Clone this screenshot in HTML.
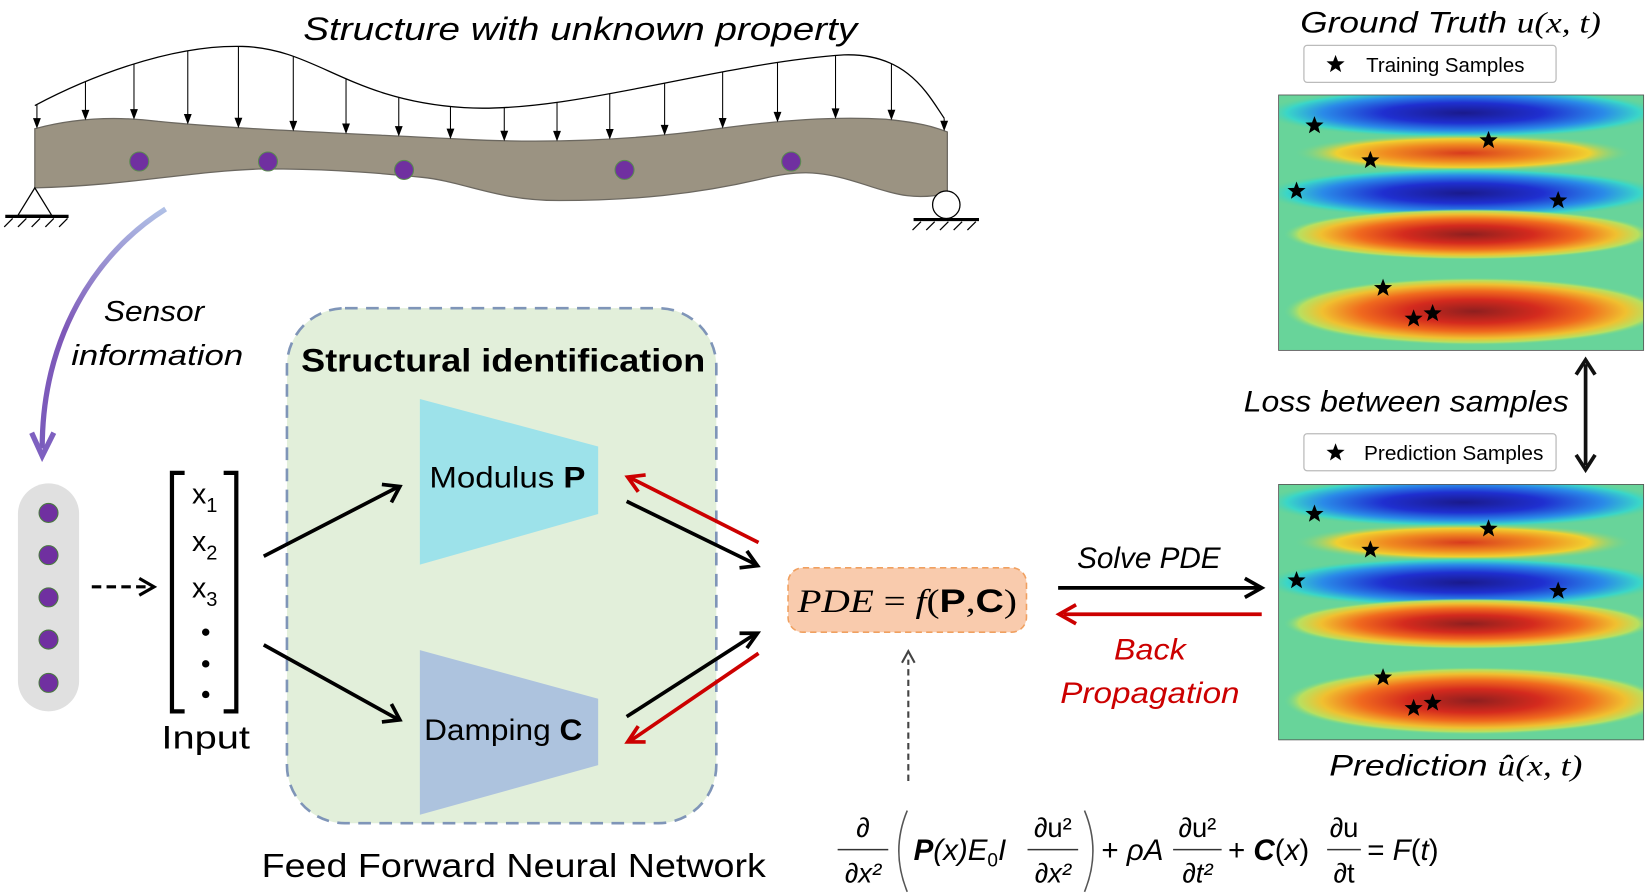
<!DOCTYPE html>
<html><head><meta charset="utf-8"><style>
html,body{margin:0;padding:0;background:#fff}
svg{display:block}
text{font-family:"Liberation Sans",sans-serif}
.it{font-style:italic}
.serif{font-family:"Liberation Serif",serif}
</style></head><body>
<svg id="s" width="1651" height="895" viewBox="0 0 1565 848" preserveAspectRatio="none" xmlns="http://www.w3.org/2000/svg">
<defs>
<radialGradient id="gb" cx="0.5" cy="0.5" r="0.5">
<stop offset="0" stop-color="#1a1a8c"/><stop offset="0.4" stop-color="#1f2fd0"/><stop offset="0.7" stop-color="#2a8ae8"/><stop offset="0.88" stop-color="#3ad6c8"/><stop offset="1" stop-color="#5fd39a" stop-opacity="0"/>
</radialGradient>
<radialGradient id="gr" cx="0.5" cy="0.5" r="0.5">
<stop offset="0" stop-color="#8e1f1f"/><stop offset="0.35" stop-color="#d42a1e"/><stop offset="0.6" stop-color="#f06a1e"/><stop offset="0.8" stop-color="#f0c030"/><stop offset="0.92" stop-color="#b8e060"/><stop offset="1" stop-color="#6fd890" stop-opacity="0"/>
</radialGradient>
<radialGradient id="go" cx="0.5" cy="0.5" r="0.5">
<stop offset="0" stop-color="#d83a1e"/><stop offset="0.45" stop-color="#f08a20"/><stop offset="0.75" stop-color="#f0d030"/><stop offset="1" stop-color="#6fd890" stop-opacity="0"/>
</radialGradient>
<linearGradient id="ps" x1="0" y1="0" x2="0" y2="1">
<stop offset="0" stop-color="#b0c0e6"/><stop offset="0.5" stop-color="#7e58b8"/><stop offset="1" stop-color="#7a5cbc"/>
</linearGradient>
<polygon id="star" points="0,-9 2.3,-3 8.6,-2.8 3.6,1.2 5.3,7.3 0,3.8 -5.3,7.3 -3.6,1.2 -8.6,-2.8 -2.3,-3" fill="#000"/>
<clipPath id="hc"><rect x="0" y="0" width="346" height="242"/></clipPath>
<g id="heat">
<rect x="0" y="0" width="346" height="242" fill="#68d49a"/>
<g clip-path="url(#hc)">
<ellipse cx="175" cy="17" rx="190" ry="24" fill="url(#gb)"/>
<ellipse cx="175" cy="55" rx="160" ry="18" fill="url(#go)"/>
<ellipse cx="175" cy="93" rx="190" ry="24" fill="url(#gb)"/>
<ellipse cx="180" cy="132" rx="175" ry="24" fill="url(#gr)"/>
<ellipse cx="185" cy="205" rx="180" ry="32" fill="url(#gr)"/>
</g>
<rect x="0" y="0" width="346" height="242" fill="none" stroke="#555" stroke-width="0.8"/>
</g>
</defs>

<text x="550" y="38" font-size="31" class="it" text-anchor="middle" textLength="525" lengthAdjust="spacingAndGlyphs">Structure with unknown property</text>

<path id="btop" d="M33,122 C70,112 110,110 150,115 C220,122 300,125 440,132 C520,136 600,133 680,122 C740,114 790,110 840,113 C870,116 885,120 898,125" fill="none" stroke="none"/>
<path d="M33,122 C70,112 110,110 150,115 C220,122 300,125 440,132 C520,136 600,133 680,122 C740,114 790,110 840,113 C870,116 885,120 898,125 L898,183 C870,190 850,185 820,175 C780,162 760,160 720,170 C660,184 600,190 530,190 C470,190 440,172 400,168 C340,162 300,160 250,160 C180,162 120,176 33,178 Z" fill="#9b9382" stroke="#6c6860" stroke-width="1.2"/>
<path id="load" d="M33,100 C80,75 160,42 230,44 C300,46 330,95 440,102 C540,108 680,60 800,52 C860,50 880,90 895,112" fill="none" stroke="#000" stroke-width="1.2"/>
<g id="arrows" stroke="#000" stroke-width="1"></g>
<g fill="#7030a0" stroke="#5a8a50" stroke-width="1">
<ellipse cx="132" cy="153" rx="9" ry="9"/><ellipse cx="254" cy="153" rx="9" ry="9"/><ellipse cx="383" cy="161" rx="9" ry="9"/><ellipse cx="592" cy="161" rx="9" ry="9"/><ellipse cx="750" cy="153" rx="9" ry="9"/>
</g>
<path d="M33,178 L17,204 L49,204 Z" fill="none" stroke="#000" stroke-width="1.2"/>
<line x1="5" y1="205" x2="65" y2="205" stroke="#000" stroke-width="3"/>
<g stroke="#000" stroke-width="1.2"><line x1="12" y1="207" x2="4" y2="215"/><line x1="25" y1="207" x2="17" y2="215"/><line x1="38" y1="207" x2="30" y2="215"/><line x1="51" y1="207" x2="43" y2="215"/><line x1="64" y1="207" x2="56" y2="215"/></g>
<ellipse cx="897" cy="194" rx="13" ry="13" fill="#fff" stroke="#000" stroke-width="1.2"/>
<line x1="866" y1="208" x2="928" y2="208" stroke="#000" stroke-width="3"/>
<g stroke="#000" stroke-width="1.2"><line x1="873" y1="210" x2="865" y2="218"/><line x1="886" y1="210" x2="878" y2="218"/><line x1="899" y1="210" x2="891" y2="218"/><line x1="912" y1="210" x2="904" y2="218"/><line x1="925" y1="210" x2="917" y2="218"/></g>

<path d="M157,198 C90,240 40,320 40,425" fill="none" stroke="url(#ps)" stroke-width="5"/>
<path d="M30,410 L40,432 L51,410" fill="none" stroke="#7e60c0" stroke-width="5"/>
<text x="146" y="304" font-size="27" class="it" text-anchor="middle" textLength="95" lengthAdjust="spacingAndGlyphs">Sensor</text>
<text x="149" y="346" font-size="27" class="it" text-anchor="middle" textLength="163" lengthAdjust="spacingAndGlyphs">information</text>

<rect x="17" y="458" width="58" height="216" rx="29" fill="#e0e0e0"/>
<g fill="#7030a0" stroke="#4a7a40" stroke-width="1"><circle cx="46" cy="486" r="9"/><circle cx="46" cy="526" r="9"/><circle cx="46" cy="566" r="9"/><circle cx="46" cy="606" r="9"/><circle cx="46" cy="647" r="9"/></g>
<line x1="87" y1="556" x2="140" y2="556" stroke="#000" stroke-width="3" stroke-dasharray="9,5"/>
<path d="M132,548 L146,556 L132,564" fill="none" stroke="#000" stroke-width="3"/>

<path d="M175,448 L163,448 L163,674 L175,674 M212,448 L224,448 L224,674 L212,674" fill="none" stroke="#000" stroke-width="4"/>
<text x="182" y="477" font-size="27">x<tspan font-size="19" dy="8">1</tspan></text>
<text x="182" y="522" font-size="27">x<tspan font-size="19" dy="8">2</tspan></text>
<text x="182" y="566" font-size="27">x<tspan font-size="19" dy="8">3</tspan></text>
<circle cx="195" cy="599" r="3.5"/><circle cx="195" cy="629" r="3.5"/><circle cx="195" cy="658" r="3.5"/>
<text x="195" y="709" font-size="31" text-anchor="middle" textLength="84" lengthAdjust="spacingAndGlyphs">Input</text>

<rect x="272" y="292" width="407" height="488" rx="55" fill="#e2efda" stroke="#7f95b8" stroke-width="2.5" stroke-dasharray="12,8"/>
<text x="477" y="352" font-size="31" font-weight="bold" text-anchor="middle" textLength="383" lengthAdjust="spacingAndGlyphs">Structural identification</text>
<polygon points="398,378 567,423 567,487 398,535" fill="#9de2ea"/>
<polygon points="398,616 567,662 567,725 398,772" fill="#adc3de"/>
<text x="407" y="462" font-size="28" textLength="148" lengthAdjust="spacingAndGlyphs">Modulus <tspan font-weight="bold">P</tspan></text>
<text x="402" y="701" font-size="28" textLength="150" lengthAdjust="spacingAndGlyphs">Damping <tspan font-weight="bold">C</tspan></text>
<text x="487" y="831" font-size="32" text-anchor="middle" textLength="478" lengthAdjust="spacingAndGlyphs">Feed Forward Neural Network</text>

<g stroke="#000" stroke-width="3.5" fill="none">
<line x1="250" y1="527" x2="378" y2="461"/><path d="M362,459 L379,461 L371,476"/>
<line x1="250" y1="611" x2="378" y2="682"/><path d="M371,667 L379,682 L362,684"/>
<line x1="594" y1="475" x2="717" y2="535"/><path d="M701,538 L718,536 L708,522"/>
<line x1="594" y1="679" x2="717" y2="600"/><path d="M708,614 L718,600 L701,600"/>
</g>
<g stroke="#cc0000" stroke-width="3.5" fill="none">
<line x1="719" y1="514" x2="596" y2="452"/><path d="M612,450 L595,452 L605,466"/>
<line x1="719" y1="619" x2="596" y2="703"/><path d="M605,688 L595,703 L612,703"/>
</g>

<rect x="747" y="538" width="226" height="61" rx="14" fill="#f9cbad" stroke="#f0a060" stroke-width="1.5" stroke-dasharray="6,4"/>
<text x="860" y="580" font-size="31" text-anchor="middle" class="serif" textLength="208" lengthAdjust="spacingAndGlyphs"><tspan font-style="italic">PDE</tspan> = <tspan font-style="italic">f</tspan>(<tspan font-family="Liberation Sans" font-weight="bold">P</tspan>,<tspan font-family="Liberation Sans" font-weight="bold">C</tspan>)</text>
<line x1="861" y1="740" x2="861" y2="625" stroke="#444" stroke-width="2" stroke-dasharray="6,4"/>
<path d="M855,628 L861,617 L867,628" fill="none" stroke="#444" stroke-width="2"/>

<g class="serif" font-family="Liberation Serif">
<text x="818" y="793" font-size="26" font-style="italic" text-anchor="middle">∂</text>
<line x1="794" y1="805" x2="842" y2="805" stroke="#333" stroke-width="1.5"/>
<text x="818" y="836" font-size="26" font-style="italic" text-anchor="middle">∂x²</text>
<path d="M860,768 Q844,806 860,845" fill="none" stroke="#555" stroke-width="1.5"/>
<text x="866" y="815" font-size="28" font-style="italic"><tspan font-weight="bold">P</tspan>(x)E<tspan font-size="18" dy="6" font-style="normal">0</tspan><tspan dy="-6">I</tspan></text>
<text x="998" y="793" font-size="26" text-anchor="middle">∂u²</text>
<line x1="974" y1="805" x2="1022" y2="805" stroke="#333" stroke-width="1.5"/>
<text x="998" y="836" font-size="26" font-style="italic" text-anchor="middle">∂x²</text>
<path d="M1028,768 Q1044,806 1028,845" fill="none" stroke="#555" stroke-width="1.5"/>
<text x="1044" y="815" font-size="28"><tspan>+ </tspan><tspan font-style="italic">ρA</tspan></text>
<text x="1135" y="793" font-size="26" text-anchor="middle">∂u²</text>
<line x1="1112" y1="805" x2="1158" y2="805" stroke="#333" stroke-width="1.5"/>
<text x="1135" y="836" font-size="26" font-style="italic" text-anchor="middle">∂t²</text>
<text x="1164" y="815" font-size="28">+ <tspan font-weight="bold" font-style="italic">C</tspan>(<tspan font-style="italic">x</tspan>)</text>
<text x="1274" y="793" font-size="26" text-anchor="middle">∂u</text>
<line x1="1258" y1="805" x2="1290" y2="805" stroke="#333" stroke-width="1.5"/>
<text x="1274" y="836" font-size="26" text-anchor="middle">∂t</text>
<text x="1296" y="815" font-size="28">= <tspan font-style="italic">F</tspan>(<tspan font-style="italic">t</tspan>)</text>
</g>

<text x="1089" y="538" font-size="28" class="it" text-anchor="middle" textLength="136" lengthAdjust="spacingAndGlyphs">Solve PDE</text>
<line x1="1003" y1="557" x2="1193" y2="557" stroke="#000" stroke-width="3.5"/>
<path d="M1180,548 L1196,557 L1180,566" fill="none" stroke="#000" stroke-width="3.5"/>
<line x1="1008" y1="582" x2="1196" y2="582" stroke="#cc0000" stroke-width="3.5"/>
<path d="M1020,573 L1004,582 L1020,591" fill="none" stroke="#cc0000" stroke-width="3.5"/>
<text x="1090" y="625" font-size="28" class="it" fill="#cc0000" text-anchor="middle" textLength="68" lengthAdjust="spacingAndGlyphs">Back</text>
<text x="1090" y="666" font-size="28" class="it" fill="#cc0000" text-anchor="middle" textLength="170" lengthAdjust="spacingAndGlyphs">Propagation</text>

<text x="1375" y="31" font-size="28" class="it" text-anchor="middle" textLength="285" lengthAdjust="spacingAndGlyphs">Ground Truth <tspan font-family="Liberation Serif">u(x, t)</tspan></text>
<rect x="1236" y="43" width="239" height="35" rx="3" fill="#fff" stroke="#bbb" stroke-width="1.2"/>
<use href="#star" x="1266" y="61"/>
<text x="1295" y="68" font-size="19" textLength="150" lengthAdjust="spacingAndGlyphs">Training Samples</text>
<use href="#heat" x="1212" y="90"/>
<g><use href="#star" x="1246" y="119"/><use href="#star" x="1299" y="152"/><use href="#star" x="1411" y="133"/><use href="#star" x="1229" y="181"/><use href="#star" x="1477" y="190"/><use href="#star" x="1311" y="273"/><use href="#star" x="1340" y="302"/><use href="#star" x="1358" y="297"/></g>

<text x="1333" y="390" font-size="28" class="it" text-anchor="middle" textLength="308" lengthAdjust="spacingAndGlyphs">Loss between samples</text>
<line x1="1503" y1="345" x2="1503" y2="441" stroke="#111" stroke-width="3.5"/>
<path d="M1494,355 L1503,341 L1512,355 M1494,431 L1503,445 L1512,431" fill="none" stroke="#111" stroke-width="3.5"/>
<rect x="1236" y="411" width="239" height="35" rx="3" fill="#fff" stroke="#bbb" stroke-width="1.2"/>
<use href="#star" x="1266" y="429"/>
<text x="1293" y="436" font-size="19" textLength="170" lengthAdjust="spacingAndGlyphs">Prediction Samples</text>
<use href="#heat" x="1212" y="459"/>
<g><use href="#star" x="1246" y="487"/><use href="#star" x="1299" y="521"/><use href="#star" x="1411" y="501"/><use href="#star" x="1229" y="550"/><use href="#star" x="1477" y="560"/><use href="#star" x="1311" y="642"/><use href="#star" x="1340" y="671"/><use href="#star" x="1358" y="666"/></g>
<text x="1380" y="735" font-size="28" class="it" text-anchor="middle" textLength="240" lengthAdjust="spacingAndGlyphs">Prediction <tspan font-family="Liberation Serif">û(x, t)</tspan></text>
</svg>
<script>
(function(){
var NS="http://www.w3.org/2000/svg";
function yAt(p,x){var L=p.getTotalLength(),lo=0,hi=L;for(var i=0;i<40;i++){var m=(lo+hi)/2;if(p.getPointAtLength(m).x<x)lo=m;else hi=m;}return p.getPointAtLength(lo).y;}
var load=document.getElementById('load'),bt=document.getElementById('btop'),g=document.getElementById('arrows');
var xs=[35,81,127,178,226,278,328,378,427,478,528,578,630,685,737,792,845,895];
xs.forEach(function(x){var y1=yAt(load,x),y2=yAt(bt,x)-1;
var l=document.createElementNS(NS,'line');l.setAttribute('x1',x);l.setAttribute('x2',x);l.setAttribute('y1',y1);l.setAttribute('y2',y2-6);g.appendChild(l);
var h=document.createElementNS(NS,'polygon');h.setAttribute('points',(x-3)+','+(y2-8)+' '+(x+3)+','+(y2-8)+' '+x+','+y2);h.setAttribute('fill','#000');g.appendChild(h);});
})();
</script>
</body></html>
